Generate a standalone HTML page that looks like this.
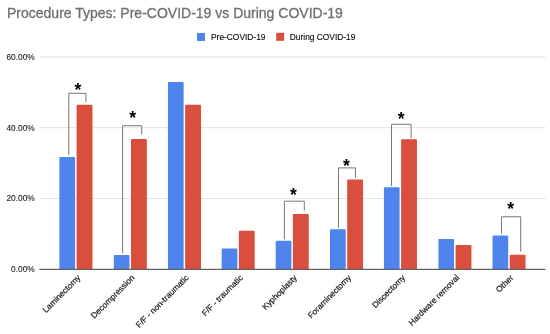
<!DOCTYPE html>
<html><head><meta charset="utf-8"><style>
html,body{margin:0;padding:0;background:#fff;width:550px;height:334px;overflow:hidden}
svg{display:block;filter:blur(0.3px)}
text{font-family:"Liberation Sans",Arial,sans-serif}
</style></head><body>
<svg width="550" height="334" viewBox="0 0 550 334">
<rect width="550" height="334" fill="#fff"/>
<text x="7" y="18" font-size="14" fill="#707070" stroke="#707070" stroke-width="0.3">Procedure Types: Pre-COVID-19 vs During COVID-19</text>
<rect x="197" y="33" width="8" height="8" fill="#4f84ec"/>
<text x="211" y="39.8" font-size="8.4" fill="#111" stroke="#111" stroke-width="0.15">Pre-COVID-19</text>
<rect x="276.2" y="32.8" width="8" height="8" fill="#d94e3d"/>
<text x="289.8" y="39.8" font-size="8.4" fill="#111" stroke="#111" stroke-width="0.15">During COVID-19</text>
<rect x="39.5" y="198.05" width="506" height="1" fill="#e2e2e2"/>
<rect x="39.5" y="127.20" width="506" height="1" fill="#e2e2e2"/>
<rect x="39.5" y="56.35" width="506" height="1" fill="#e2e2e2"/>
<text x="34.8" y="272.20" font-size="8.4" fill="#222" stroke="#222" stroke-width="0.1" text-anchor="end">0.00%</text>
<text x="34.8" y="201.35" font-size="8.4" fill="#222" stroke="#222" stroke-width="0.1" text-anchor="end">20.00%</text>
<text x="34.8" y="130.50" font-size="8.4" fill="#222" stroke="#222" stroke-width="0.1" text-anchor="end">40.00%</text>
<text x="34.8" y="59.95" font-size="8.4" fill="#222" stroke="#222" stroke-width="0.1" text-anchor="end">60.00%</text>
<path d="M59.40 269.40 V158.00 Q59.40 157.00 60.40 157.00 H74.10 Q75.10 157.00 75.10 158.00 V269.40 Z" fill="#4f84ec"/>
<path d="M76.60 269.40 V105.70 Q76.60 104.70 77.60 104.70 H91.45 Q92.45 104.70 92.45 105.70 V269.40 Z" fill="#d94e3d"/>
<path d="M113.80 269.40 V255.90 Q113.80 254.90 114.80 254.90 H128.50 Q129.50 254.90 129.50 255.90 V269.40 Z" fill="#4f84ec"/>
<path d="M131.00 269.40 V140.00 Q131.00 139.00 132.00 139.00 H145.85 Q146.85 139.00 146.85 140.00 V269.40 Z" fill="#d94e3d"/>
<path d="M167.95 269.40 V82.90 Q167.95 81.90 168.95 81.90 H182.65 Q183.65 81.90 183.65 82.90 V269.40 Z" fill="#4f84ec"/>
<path d="M185.15 269.40 V105.80 Q185.15 104.80 186.15 104.80 H200.00 Q201.00 104.80 201.00 105.80 V269.40 Z" fill="#d94e3d"/>
<path d="M221.65 269.40 V249.50 Q221.65 248.50 222.65 248.50 H236.35 Q237.35 248.50 237.35 249.50 V269.40 Z" fill="#4f84ec"/>
<path d="M238.85 269.40 V231.80 Q238.85 230.80 239.85 230.80 H253.70 Q254.70 230.80 254.70 231.80 V269.40 Z" fill="#d94e3d"/>
<path d="M275.70 269.40 V241.80 Q275.70 240.80 276.70 240.80 H290.40 Q291.40 240.80 291.40 241.80 V269.40 Z" fill="#4f84ec"/>
<path d="M292.90 269.40 V215.00 Q292.90 214.00 293.90 214.00 H307.75 Q308.75 214.00 308.75 215.00 V269.40 Z" fill="#d94e3d"/>
<path d="M330.00 269.40 V230.20 Q330.00 229.20 331.00 229.20 H344.70 Q345.70 229.20 345.70 230.20 V269.40 Z" fill="#4f84ec"/>
<path d="M347.20 269.40 V180.60 Q347.20 179.60 348.20 179.60 H362.05 Q363.05 179.60 363.05 180.60 V269.40 Z" fill="#d94e3d"/>
<path d="M383.90 269.40 V188.20 Q383.90 187.20 384.90 187.20 H398.60 Q399.60 187.20 399.60 188.20 V269.40 Z" fill="#4f84ec"/>
<path d="M401.10 269.40 V140.20 Q401.10 139.20 402.10 139.20 H415.95 Q416.95 139.20 416.95 140.20 V269.40 Z" fill="#d94e3d"/>
<path d="M438.40 269.40 V240.10 Q438.40 239.10 439.40 239.10 H453.10 Q454.10 239.10 454.10 240.10 V269.40 Z" fill="#4f84ec"/>
<path d="M455.60 269.40 V246.10 Q455.60 245.10 456.60 245.10 H470.45 Q471.45 245.10 471.45 246.10 V269.40 Z" fill="#d94e3d"/>
<path d="M492.50 269.40 V236.40 Q492.50 235.40 493.50 235.40 H507.20 Q508.20 235.40 508.20 236.40 V269.40 Z" fill="#4f84ec"/>
<path d="M509.70 269.40 V255.70 Q509.70 254.70 510.70 254.70 H524.55 Q525.55 254.70 525.55 255.70 V269.40 Z" fill="#d94e3d"/>
<rect x="39.4" y="268.80" width="506" height="1.2" fill="#5f5f5f"/>
<path d="M68.8 155.20000000000002 V93.3 H85.9 V102.0" fill="none" stroke="#777" stroke-width="1"/>
<text x="77.90" y="95.67" font-size="17.5" font-weight="bold" fill="#000" text-anchor="middle">*</text>
<path d="M122.6 253.1 V125.7 H141.7 V134.5" fill="none" stroke="#777" stroke-width="1"/>
<text x="132.60" y="123.58" font-size="17.5" font-weight="bold" fill="#000" text-anchor="middle">*</text>
<path d="M284.4 239.3 V201.20000000000002 H304.3 V210.6" fill="none" stroke="#777" stroke-width="1"/>
<text x="293.50" y="200.53" font-size="17.5" font-weight="bold" fill="#000" text-anchor="middle">*</text>
<path d="M338.5 227.70000000000002 V167.9 H355.5 V177.70000000000002" fill="none" stroke="#777" stroke-width="1"/>
<text x="346.50" y="172.23" font-size="17.5" font-weight="bold" fill="#000" text-anchor="middle">*</text>
<path d="M391.5 185.8 V124.3 H411.1 V138.1" fill="none" stroke="#777" stroke-width="1"/>
<text x="401.10" y="124.62" font-size="17.5" font-weight="bold" fill="#000" text-anchor="middle">*</text>
<path d="M501.5 233.6 V216.8 H520.7 V251.6" fill="none" stroke="#777" stroke-width="1"/>
<text x="510.55" y="215.23" font-size="17.5" font-weight="bold" fill="#000" text-anchor="middle">*</text>
<text transform="translate(81.00,278.3) rotate(-45)" x="0" y="0" font-size="8.3" fill="#222" stroke="#222" stroke-width="0.22" text-anchor="end">Laminectomy</text>
<text transform="translate(135.12,278.3) rotate(-45)" x="0" y="0" font-size="8.3" fill="#222" stroke="#222" stroke-width="0.22" text-anchor="end">Decompression</text>
<text transform="translate(189.24,278.3) rotate(-45)" x="0" y="0" font-size="8.3" fill="#222" stroke="#222" stroke-width="0.22" text-anchor="end">F/F - non-traumatic</text>
<text transform="translate(243.36,278.3) rotate(-45)" x="0" y="0" font-size="8.3" fill="#222" stroke="#222" stroke-width="0.22" text-anchor="end">F/F - traumatic</text>
<text transform="translate(297.48,278.3) rotate(-45)" x="0" y="0" font-size="8.3" fill="#222" stroke="#222" stroke-width="0.22" text-anchor="end">Kyphoplasty</text>
<text transform="translate(351.60,278.3) rotate(-45)" x="0" y="0" font-size="8.3" fill="#222" stroke="#222" stroke-width="0.22" text-anchor="end">Foraminectomy</text>
<text transform="translate(405.72,278.3) rotate(-45)" x="0" y="0" font-size="8.3" fill="#222" stroke="#222" stroke-width="0.22" text-anchor="end">Discectomy</text>
<text transform="translate(459.84,278.3) rotate(-45)" x="0" y="0" font-size="8.3" fill="#222" stroke="#222" stroke-width="0.22" text-anchor="end">Hardware removal</text>
<text transform="translate(513.96,278.3) rotate(-45)" x="0" y="0" font-size="8.3" fill="#222" stroke="#222" stroke-width="0.22" text-anchor="end">Other</text>
</svg>
</body></html>
